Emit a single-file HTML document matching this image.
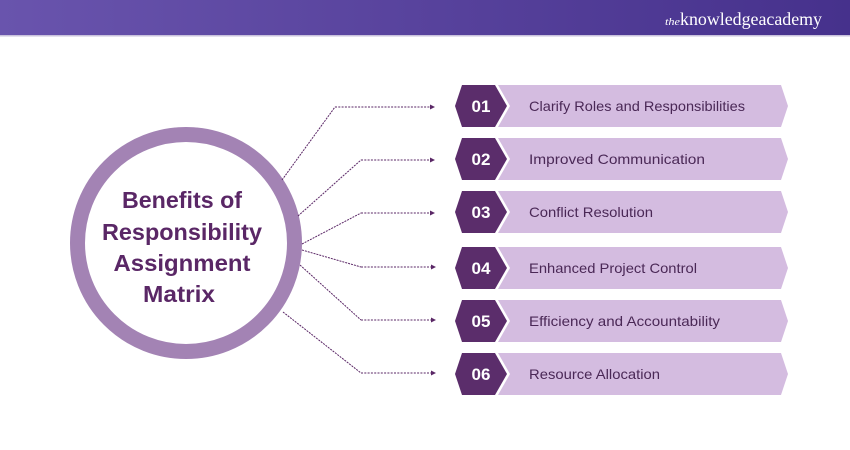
<!DOCTYPE html>
<html><head><meta charset="utf-8"><style>
html,body{margin:0;padding:0;background:#fff;}
body{width:850px;height:450px;overflow:hidden;}
svg{display:block;}
</style></head><body>
<svg width="850" height="450" viewBox="0 0 850 450" xmlns="http://www.w3.org/2000/svg">
<defs>
<linearGradient id="hd" x1="0" y1="0" x2="1" y2="0">
<stop offset="0" stop-color="#6954ad"/>
<stop offset="1" stop-color="#46318c"/>
</linearGradient>
</defs>
<rect x="0" y="0" width="850" height="36" fill="url(#hd)"/>
<rect x="0" y="35" width="850" height="1.5" fill="#c9c2dc"/>
<text x="665" y="25" font-family="'Liberation Serif',serif" font-style="italic" font-size="11" fill="#fff" textLength="15" lengthAdjust="spacingAndGlyphs">the</text>
<text x="680" y="25" font-family="'Liberation Serif',serif" font-size="18" fill="#fff" textLength="142" lengthAdjust="spacingAndGlyphs">knowledgeacademy</text>

<circle cx="186" cy="243" r="108.5" fill="#fff" stroke="#a383b4" stroke-width="15"/>
<g font-family="'Liberation Sans',sans-serif" font-weight="bold" font-size="23" fill="#5a2766" text-anchor="middle">
<text x="182" y="208" textLength="120" lengthAdjust="spacingAndGlyphs">Benefits of</text>
<text x="182" y="240" textLength="160" lengthAdjust="spacingAndGlyphs">Responsibility</text>
<text x="182" y="271" textLength="137" lengthAdjust="spacingAndGlyphs">Assignment</text>
<text x="179" y="302" textLength="72" lengthAdjust="spacingAndGlyphs">Matrix</text>
</g>

<g stroke="#5a2766" stroke-width="1" fill="none">
<polyline points="282,180 335,107" stroke-dasharray="2,1"/>
<line x1="335" y1="107" x2="431" y2="107" stroke-dasharray="2,1.3"/>
<polyline points="298,216 361,160" stroke-dasharray="2,1"/>
<line x1="361" y1="160" x2="431" y2="160" stroke-dasharray="2,1.3"/>
<polyline points="302,244 361,213" stroke-dasharray="2,1"/>
<line x1="361" y1="213" x2="431" y2="213" stroke-dasharray="2,1.3"/>
<polyline points="302,250 361,267" stroke-dasharray="2,1"/>
<line x1="361" y1="267" x2="432" y2="267" stroke-dasharray="2,1.3"/>
<polyline points="300,265 361,320" stroke-dasharray="2,1"/>
<line x1="361" y1="320" x2="432" y2="320" stroke-dasharray="2,1.3"/>
<polyline points="283,312 361,373" stroke-dasharray="2,1"/>
<line x1="361" y1="373" x2="432" y2="373" stroke-dasharray="2,1.3"/>
</g>
<g fill="#5a2766">
<polygon points="430,104.5 435,107 430,109.5"/>
<polygon points="430,157.5 435,160 430,162.5"/>
<polygon points="430,210.5 435,213 430,215.5"/>
<polygon points="431,264.5 436,267 431,269.5"/>
<polygon points="431,317.5 436,320 431,322.5"/>
<polygon points="431,370.5 436,373 431,375.5"/>
</g>

<g font-family="'Liberation Sans',sans-serif">
<g transform="translate(0,106)">
<polygon points="498,-21 781,-21 788,0 781,21 498,21 510,0" fill="#d4bce0"/>
<polygon points="455,0 462,-21 495,-21 507,0 495,21 462,21" fill="#5b2d6b"/>
<text x="481" y="6" text-anchor="middle" font-weight="bold" font-size="17" fill="#fff">01</text>
<text x="529" y="5" font-size="14" fill="#4a2856" textLength="216" lengthAdjust="spacingAndGlyphs">Clarify Roles and Responsibilities</text>
</g>
<g transform="translate(0,159)">
<polygon points="498,-21 781,-21 788,0 781,21 498,21 510,0" fill="#d4bce0"/>
<polygon points="455,0 462,-21 495,-21 507,0 495,21 462,21" fill="#5b2d6b"/>
<text x="481" y="6" text-anchor="middle" font-weight="bold" font-size="17" fill="#fff">02</text>
<text x="529" y="5" font-size="14" fill="#4a2856" textLength="176" lengthAdjust="spacingAndGlyphs">Improved Communication</text>
</g>
<g transform="translate(0,212)">
<polygon points="498,-21 781,-21 788,0 781,21 498,21 510,0" fill="#d4bce0"/>
<polygon points="455,0 462,-21 495,-21 507,0 495,21 462,21" fill="#5b2d6b"/>
<text x="481" y="6" text-anchor="middle" font-weight="bold" font-size="17" fill="#fff">03</text>
<text x="529" y="5" font-size="14" fill="#4a2856" textLength="124" lengthAdjust="spacingAndGlyphs">Conflict Resolution</text>
</g>
<g transform="translate(0,268)">
<polygon points="498,-21 781,-21 788,0 781,21 498,21 510,0" fill="#d4bce0"/>
<polygon points="455,0 462,-21 495,-21 507,0 495,21 462,21" fill="#5b2d6b"/>
<text x="481" y="6" text-anchor="middle" font-weight="bold" font-size="17" fill="#fff">04</text>
<text x="529" y="5" font-size="14" fill="#4a2856" textLength="168" lengthAdjust="spacingAndGlyphs">Enhanced Project Control</text>
</g>
<g transform="translate(0,321)">
<polygon points="498,-21 781,-21 788,0 781,21 498,21 510,0" fill="#d4bce0"/>
<polygon points="455,0 462,-21 495,-21 507,0 495,21 462,21" fill="#5b2d6b"/>
<text x="481" y="6" text-anchor="middle" font-weight="bold" font-size="17" fill="#fff">05</text>
<text x="529" y="5" font-size="14" fill="#4a2856" textLength="191" lengthAdjust="spacingAndGlyphs">Efficiency and Accountability</text>
</g>
<g transform="translate(0,374)">
<polygon points="498,-21 781,-21 788,0 781,21 498,21 510,0" fill="#d4bce0"/>
<polygon points="455,0 462,-21 495,-21 507,0 495,21 462,21" fill="#5b2d6b"/>
<text x="481" y="6" text-anchor="middle" font-weight="bold" font-size="17" fill="#fff">06</text>
<text x="529" y="5" font-size="14" fill="#4a2856" textLength="131" lengthAdjust="spacingAndGlyphs">Resource Allocation</text>
</g>
</g>
</svg>
</body></html>
